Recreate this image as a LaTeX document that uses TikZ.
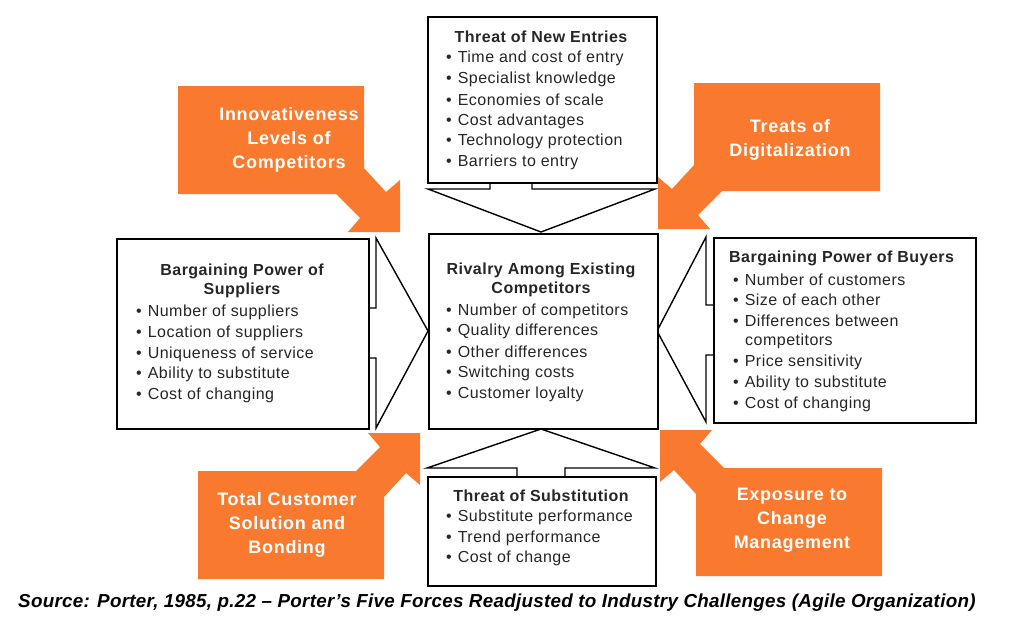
\documentclass[tikz,border=0pt]{standalone}
\usepackage{fontspec}
\setmainfont{Liberation Sans}
\definecolor{org}{HTML}{F97A2E}
\begin{document}
\begin{tikzpicture}[x=1pt,y=-1pt,
  box/.style={draw,line width=2pt,fill=white},
  conn/.style={draw,line width=1.4pt,line join=miter},
  ttl/.style={font=\fontsize{16}{19}\selectfont\bfseries\addfontfeature{LetterSpace=3},inner sep=0pt,text=black!85},
  itm/.style={font=\fontsize{16}{19}\selectfont\addfontfeature{LetterSpace=3},inner sep=0pt,anchor=west,text=black!85},
  otxt/.style={font=\fontsize{18}{24}\selectfont\bfseries\addfontfeature{LetterSpace=4},text=white,align=center,inner sep=0pt},
  oarr/.style={fill=org}]
\useasboundingbox (0,0) rectangle (1024,632);
\newcommand\bul[3]{\node[itm] at (#1,#2) {\textbullet\hspace{6pt}#3};}
\newcommand\oarrow[4]{%
  \begin{scope}[shift={(#1,#2)},xscale=#3,yscale=#4]
  \fill[org] (0,0)--(-52,0)--(-40,-14)--(-64,-38)--(-222,-38)--(-222,-146)--(-36,-146)--(-36,-64)--(-14,-40)--(0,-52)--cycle;
  \end{scope}}
% connectors
\draw[conn] (490,182)--(490,189)--(428,189)--(541,232)--(655,189)--(532,189)--(532,182);
\draw[conn] (368,308)--(376,308)--(376,238)--(428,331)--(376,428)--(376,358)--(368,358);
\draw[conn] (713,305)--(706,305)--(706,237)--(657,331)--(706,422)--(706,355)--(713,355);
\draw[conn] (517,476)--(517,468)--(427,468)--(541,429)--(655,468)--(565,468)--(565,476);
% boxes
\node[box,minimum width=229,minimum height=166,anchor=north west] (top) at (427,16) {};
\node[box,minimum width=229,minimum height=195,anchor=north west] (mid) at (428,233) {};
\node[box,minimum width=252,minimum height=190,anchor=north west] (lft) at (116,238) {};
\node[box,minimum width=262,minimum height=185,anchor=north west] (rgt) at (713,237) {};
\node[box,minimum width=228,minimum height=109,anchor=north west] (bot) at (427,476) {};
% orange arrows
\oarrow{400}{232}{1}{1}
\oarrow{658}{229}{-1}{1}
\oarrow{420}{433}{1}{-1}
\oarrow{660}{430}{-1}{-1}
\node[otxt] (o1) at (289,140) {Innovativeness\\Levels of\\Competitors};
\node[otxt] (o2) at (790,140) {Treats of\\Digitalization};
\node[otxt] (o3) at (287,525) {Total Customer\\Solution and\\Bonding};
\node[otxt] (o4) at (792,520) {Exposure to\\Change\\Management};
% top box text
\node[ttl] (t1) at (541,37) {Threat of New Entries};
\bul{446}{58}{Time and cost of entry}
\bul{446}{79}{Specialist knowledge}
\bul{446}{100}{Economies of scale}
\bul{446}{121}{Cost advantages}
\bul{446}{141}{Technology protection}
\bul{446}{162}{Barriers to entry}
% mid
\node[ttl,align=center] (t2) at (541,280) {Rivalry Among Existing\\Competitors};
\bul{446}{311}{Number of competitors}
\bul{446}{331}{Quality differences}
\bul{446}{352}{Other differences}
\bul{446}{373}{Switching costs}
\bul{446}{394}{Customer loyalty}
% left
\node[ttl,align=center] (t3) at (242,281) {Bargaining Power of\\Suppliers};
\bul{136}{312}{Number of suppliers}
\bul{136}{333}{Location of suppliers}
\bul{136}{354}{Uniqueness of service}
\bul{136}{374}{Ability to substitute}
\bul{136}{395}{Cost of changing}
% right
\node[ttl,anchor=west] (t4) at (729,258) {Bargaining Power of Buyers};
\bul{733}{280}{Number of customers}
\bul{733}{300}{Size of each other}
\bul{733}{321}{Differences between}
\node[itm] at (745,341) {competitors};
\bul{733}{362}{Price sensitivity}
\bul{733}{383}{Ability to substitute}
\bul{733}{404}{Cost of changing}
% bottom
\node[ttl] (t5) at (541,496) {Threat of Substitution};
\bul{446}{517}{Substitute performance}
\bul{446}{538}{Trend performance}
\bul{446}{558}{Cost of change}
% caption
\node[anchor=west,inner sep=0pt,font=\fontsize{18.8}{20}\selectfont\bfseries\itshape\addfontfeature{LetterSpace=1.5}] (cap) at (18,603) {Source: Porter, 1985, p.22 – Porter’s Five Forces Readjusted to Industry Challenges (Agile Organization)};
\end{tikzpicture}
\end{document}
